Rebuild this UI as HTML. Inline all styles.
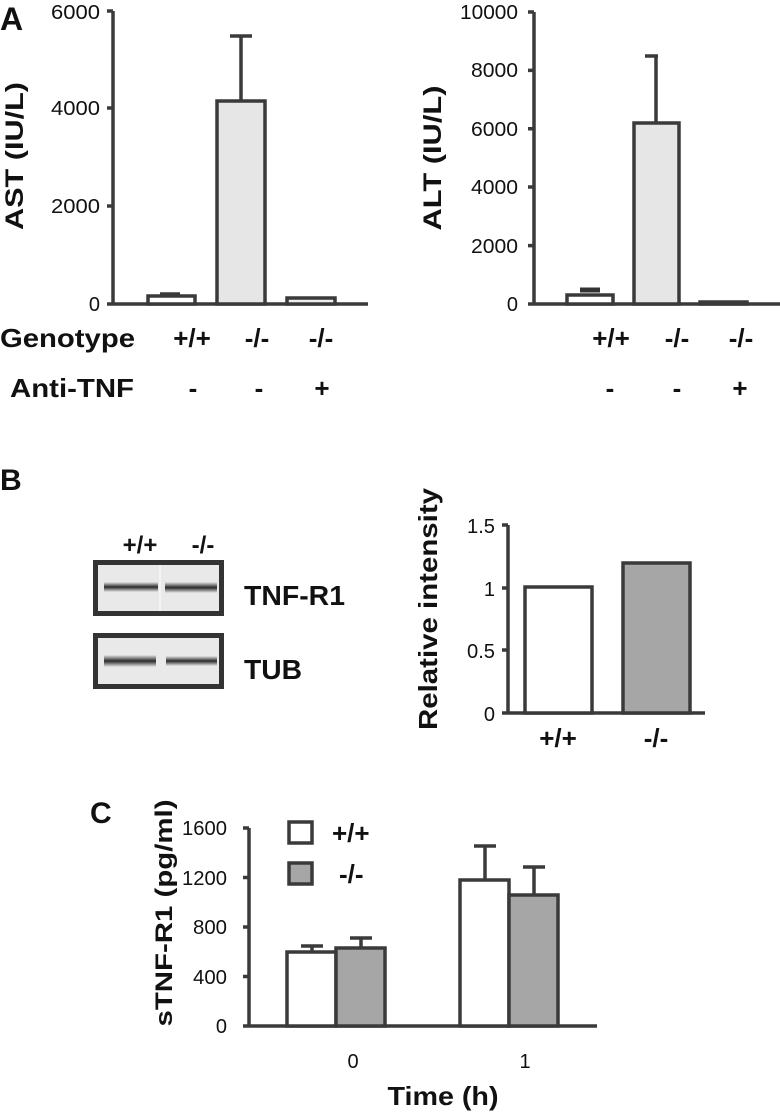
<!DOCTYPE html>
<html><head><meta charset="utf-8"><style>
html,body{margin:0;padding:0;background:#fff;}
svg{display:block;font-family:"Liberation Sans",Arial,sans-serif;}
.t{font-size:20px;fill:#111;}
.b{font-weight:bold;fill:#111;}
.ax{stroke:#3a3a3a;stroke-width:3.5;fill:none;}
.bar{stroke:#3a3a3a;stroke-width:3.5;}
</style></head><body>
<svg width="780" height="1112" viewBox="0 0 780 1112" xmlns="http://www.w3.org/2000/svg">
<defs>
<linearGradient id="bd" x1="0" y1="0" x2="0" y2="1">
<stop offset="0" stop-color="#e8e8e8"/><stop offset="0.5" stop-color="#2a2a2a"/><stop offset="1" stop-color="#e8e8e8"/>
</linearGradient>
</defs>
<!-- Panel A left -->
<text class="b" x="0" y="30" font-size="32">A</text>
<path class="ax" d="M113 11 V304 M107 11 H113 M107 108 H113 M107 206 H113 M107 304 H113 M113 304 H368"/>
<g class="t" text-anchor="end">
<text x="100" y="19" textLength="49" lengthAdjust="spacingAndGlyphs">6000</text>
<text x="100" y="115" textLength="49" lengthAdjust="spacingAndGlyphs">4000</text>
<text x="100" y="213" textLength="49" lengthAdjust="spacingAndGlyphs">2000</text>
<text x="100" y="311">0</text>
</g>
<text class="b" font-size="25" transform="translate(23,156) rotate(-90)" text-anchor="middle" textLength="148" lengthAdjust="spacingAndGlyphs">AST  (IU/L)</text>
<rect class="bar" x="148" y="296" width="47" height="8" fill="#fff"/>
<path class="ax" d="M168 296 V294 M160 294 H180"/>
<rect class="bar" x="217" y="101" width="48" height="203" fill="#e6e6e6"/>
<path class="ax" d="M241 101 V36 M230 36 H252"/>
<rect class="bar" x="287" y="298" width="48" height="6" fill="#eee"/>
<text class="b" x="0" y="347" font-size="26" textLength="135" lengthAdjust="spacingAndGlyphs">Genotype</text>
<g class="b" font-size="26" text-anchor="middle">
<text x="192" y="347">+/+</text><text x="257" y="347">-/-</text><text x="321" y="347">-/-</text>
<text x="193" y="397">-</text><text x="259" y="397">-</text><text x="322" y="397">+</text>
</g>
<text class="b" x="10" y="397" font-size="26" textLength="124" lengthAdjust="spacingAndGlyphs">Anti-TNF</text>

<!-- Panel A right -->
<path class="ax" d="M534 12 V304 M528 12 H534 M528 70.4 H534 M528 128.8 H534 M528 187 H534 M528 245.6 H534 M528 304 H534 M534 304 H780"/>
<g class="t" text-anchor="end">
<text x="518" y="19" textLength="58" lengthAdjust="spacingAndGlyphs">10000</text>
<text x="518" y="77" textLength="47" lengthAdjust="spacingAndGlyphs">8000</text>
<text x="518" y="136" textLength="47" lengthAdjust="spacingAndGlyphs">6000</text>
<text x="518" y="194" textLength="47" lengthAdjust="spacingAndGlyphs">4000</text>
<text x="518" y="253" textLength="47" lengthAdjust="spacingAndGlyphs">2000</text>
<text x="518" y="311">0</text>
</g>
<text class="b" font-size="25" transform="translate(441,158) rotate(-90)" text-anchor="middle" textLength="145" lengthAdjust="spacingAndGlyphs">ALT  (IU/L)</text>
<rect class="bar" x="567" y="295" width="46" height="9" fill="#fff"/>
<path d="M580 290 H600" stroke="#333" stroke-width="5"/>
<rect class="bar" x="634" y="123" width="45" height="181" fill="#e6e6e6"/>
<path class="ax" d="M656 123 V56 M645 56 H658"/>
<rect class="bar" x="700" y="302" width="47" height="2" fill="#eee"/>
<g class="b" font-size="26" text-anchor="middle">
<text x="611" y="347">+/+</text><text x="677" y="347">-/-</text><text x="741" y="347">-/-</text>
<text x="610" y="397">-</text><text x="677" y="397">-</text><text x="740" y="397">+</text>
</g>

<!-- Panel B -->
<text class="b" x="0" y="490" font-size="30">B</text>
<g class="b" font-size="24" text-anchor="middle">
<text x="140" y="553">+/+</text><text x="203" y="553">-/-</text>
</g>
<rect x="95.5" y="562.5" width="126" height="51" fill="#e9e9e9" stroke="#333" stroke-width="5"/>
<line x1="160" y1="565" x2="160" y2="611" stroke="#f4f4f4" stroke-width="2"/>
<rect x="104" y="582" width="54" height="10" fill="url(#bd)"/>
<rect x="165" y="582" width="52" height="11" fill="url(#bd)"/>
<rect x="95.5" y="635.5" width="126" height="51" fill="#e9e9e9" stroke="#333" stroke-width="5"/>
<rect x="104" y="655" width="52" height="12" fill="url(#bd)"/>
<rect x="166" y="656" width="51" height="10" fill="url(#bd)"/>
<text class="b" x="244" y="605" font-size="28" textLength="101" lengthAdjust="spacingAndGlyphs">TNF-R1</text>
<text class="b" x="244" y="679" font-size="28" textLength="58" lengthAdjust="spacingAndGlyphs">TUB</text>

<path class="ax" d="M508 525 V713 M502 525 H508 M502 588 H508 M502 650 H508 M502 713 H508 M508 713 H705"/>
<g class="t" text-anchor="end" font-size="22">
<text x="495" y="533" textLength="28" lengthAdjust="spacingAndGlyphs">1.5</text>
<text x="495" y="596">1</text>
<text x="495" y="658" textLength="28" lengthAdjust="spacingAndGlyphs">0.5</text>
<text x="495" y="721">0</text>
</g>
<text class="b" font-size="26" transform="translate(437,609) rotate(-90)" text-anchor="middle" textLength="242" lengthAdjust="spacingAndGlyphs">Relative intensity</text>
<rect class="bar" x="525" y="587" width="67" height="126" fill="#fff"/>
<rect class="bar" x="623" y="563" width="67" height="150" fill="#a6a6a6"/>
<g class="b" font-size="26" text-anchor="middle">
<text x="558" y="747">+/+</text><text x="656" y="747">-/-</text>
</g>

<!-- Panel C -->
<text class="b" x="90" y="823" font-size="30">C</text>
<path class="ax" d="M249 828 V1026 M243 828 H249 M243 877.5 H249 M243 927 H249 M243 976.5 H249 M243 1026 H249 M249 1026 H597"/>
<g class="t" text-anchor="end">
<text x="227" y="835" textLength="45" lengthAdjust="spacingAndGlyphs">1600</text>
<text x="227" y="885" textLength="45" lengthAdjust="spacingAndGlyphs">1200</text>
<text x="227" y="934" textLength="34" lengthAdjust="spacingAndGlyphs">800</text>
<text x="227" y="984" textLength="34" lengthAdjust="spacingAndGlyphs">400</text>
<text x="227" y="1033">0</text>
</g>
<text class="b" font-size="24" transform="translate(172,913) rotate(-90)" text-anchor="middle" textLength="227" lengthAdjust="spacingAndGlyphs">sTNF-R1 (pg/ml)</text>
<rect class="bar" x="289" y="822" width="23" height="21" fill="#fff"/>
<rect class="bar" x="289" y="863" width="23" height="21" fill="#a6a6a6"/>
<text class="b" x="332" y="842" font-size="26">+/+</text>
<text class="b" x="339" y="883" font-size="26">-/-</text>
<path class="ax" d="M312 952 V946 M301 946 H323 M361 948 V938 M350 938 H372 M485 880 V846 M474 846 H496 M534 895 V867 M523 867 H545"/>
<rect class="bar" x="287" y="952" width="49" height="74" fill="#fff"/>
<rect class="bar" x="336" y="948" width="49" height="78" fill="#a6a6a6"/>
<rect class="bar" x="460" y="880" width="49" height="146" fill="#fff"/>
<rect class="bar" x="509" y="895" width="49" height="131" fill="#a6a6a6"/>
<g class="t" text-anchor="middle">
<text x="353" y="1068">0</text><text x="525" y="1068">1</text>
</g>
<text class="b" x="443" y="1105" font-size="26" text-anchor="middle" textLength="111" lengthAdjust="spacingAndGlyphs">Time (h)</text>
</svg>
</body></html>
